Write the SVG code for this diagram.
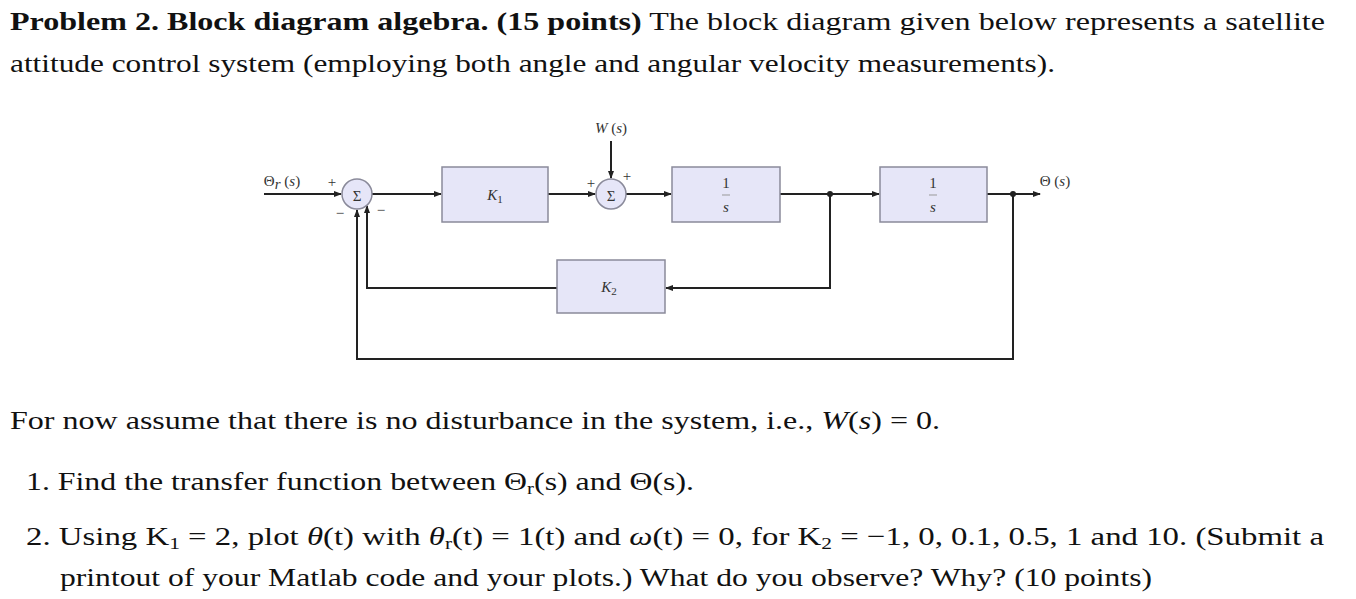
<svg xmlns="http://www.w3.org/2000/svg" width="1356" height="599" viewBox="0 0 1356 599">
<style>
.t{font-family:"Liberation Serif",serif;font-size:26px;fill:#111}
.b{font-weight:bold}
.m{font-family:"Liberation Serif",serif;font-size:15px;fill:#333}
.mi{font-family:"Liberation Serif",serif;font-size:15px;font-style:italic;fill:#333}
.box{fill:#e6e6f8;stroke:#8a8a9a;stroke-width:1.5}
.ln{fill:none;stroke:#222;stroke-width:2}
</style>
<defs><marker id="a" markerWidth="8" markerHeight="8" refX="7" refY="4" orient="auto" markerUnits="userSpaceOnUse"><path d="M0,1 L8,4 L0,7 z" fill="#222"/></marker></defs>
<rect width="1356" height="599" fill="#fff"/>
<text class="t" x="10" y="30" textLength="1315" lengthAdjust="spacingAndGlyphs"><tspan class="b">Problem 2. Block diagram algebra. (15 points)</tspan> The block diagram given below represents a satellite</text>
<text class="t" x="10" y="72" textLength="1045" lengthAdjust="spacingAndGlyphs">attitude control system (employing both angle and angular velocity measurements).</text>
<text class="t" x="10" y="429" textLength="930" lengthAdjust="spacingAndGlyphs">For now assume that there is no disturbance in the system, i.e., <tspan font-style="italic">W</tspan>(<tspan font-style="italic">s</tspan>) = 0.</text>
<text class="t" x="26" y="490" textLength="668" lengthAdjust="spacingAndGlyphs">1. Find the transfer function between Θ<tspan font-size="17" dy="4">r</tspan><tspan dy="-4">(s) and Θ(s).</tspan></text>
<text class="t" x="26" y="545" textLength="1298" lengthAdjust="spacingAndGlyphs">2. Using K<tspan font-size="17" dy="4">1</tspan><tspan dy="-4"> = 2, plot </tspan><tspan font-style="italic">θ</tspan>(t) with <tspan font-style="italic">θ</tspan><tspan font-size="17" dy="4">r</tspan><tspan dy="-4">(t) = 1(t) and </tspan><tspan font-style="italic">ω</tspan>(t) = 0, for K<tspan font-size="17" dy="4">2</tspan><tspan dy="-4"> = −1, 0, 0.1, 0.5, 1 and 10. (Submit a</tspan></text>
<text class="t" x="60" y="586" textLength="1092" lengthAdjust="spacingAndGlyphs">printout of your Matlab code and your plots.) What do you observe? Why? (10 points)</text>

<g id="connectors">
<path class="ln" d="M264,194 H341" marker-end="url(#a)"/>
<path class="ln" d="M372,194 H441" marker-end="url(#a)"/>
<path class="ln" d="M548,194 H595" marker-end="url(#a)"/>
<path class="ln" d="M611,141 V178" marker-end="url(#a)"/>
<path class="ln" d="M626,194 H671" marker-end="url(#a)"/>
<path class="ln" d="M780,194 H879" marker-end="url(#a)"/>
<path class="ln" d="M987,194 H1040" marker-end="url(#a)"/>
<path class="ln" d="M830,194 V288 H666" marker-end="url(#a)"/>
<path class="ln" d="M557,288 H367 V206" marker-end="url(#a)"/>
<path class="ln" d="M1013,194 V359 H357 V210" marker-end="url(#a)"/>
<circle cx="830" cy="194" r="3" fill="#222"/>
<circle cx="1013" cy="194" r="3" fill="#222"/>
</g>
<g id="sum1"><circle cx="357" cy="194" r="15" class="box"/><text class="m" x="357" y="201" text-anchor="middle" font-size="21">Σ</text>
<text class="m" x="332" y="187" text-anchor="middle">+</text><text class="m" x="340" y="218" text-anchor="middle">−</text><text class="m" x="381" y="215" text-anchor="middle">−</text></g>
<g id="k1"><rect class="box" x="442" y="167" width="106" height="55"/><text class="mi" x="495" y="200" text-anchor="middle">K<tspan font-size="11" dy="3" font-style="normal">1</tspan></text></g>
<g id="sum2"><circle cx="611" cy="194" r="15" class="box"/><text class="m" x="611" y="201" text-anchor="middle" font-size="21">Σ</text>
<text class="m" x="591" y="188" text-anchor="middle">+</text><text class="m" x="627" y="181" text-anchor="middle">+</text></g>
<g id="w"><text class="mi" x="611" y="133" text-anchor="middle">W<tspan font-style="normal"> (</tspan>s<tspan font-style="normal">)</tspan></text></g>
<g id="int1"><rect class="box" x="672" y="167" width="108" height="55"/><text class="m" x="726" y="188" text-anchor="middle" font-size="13">1</text><line x1="722" y1="195" x2="730" y2="195" stroke="#999"/><text class="mi" x="726" y="212" text-anchor="middle" font-size="13">s</text></g>
<g id="int2"><rect class="box" x="880" y="167" width="107" height="55"/><text class="m" x="933" y="188" text-anchor="middle" font-size="13">1</text><line x1="929" y1="195" x2="937" y2="195" stroke="#999"/><text class="mi" x="933" y="212" text-anchor="middle" font-size="13">s</text></g>
<g id="k2"><rect class="box" x="557" y="260" width="108" height="53"/><text class="mi" x="609" y="292" text-anchor="middle">K<tspan font-size="11" dy="3" font-style="normal">2</tspan></text></g>
<g id="labels"><text class="m" x="282" y="186" text-anchor="middle">Θ<tspan class="mi" font-size="11" dy="3">r</tspan><tspan dy="-3"> (</tspan><tspan font-style="italic">s</tspan>)</text>
<text class="m" x="1055" y="186" text-anchor="middle">Θ (<tspan font-style="italic">s</tspan>)</text></g>
</svg>
